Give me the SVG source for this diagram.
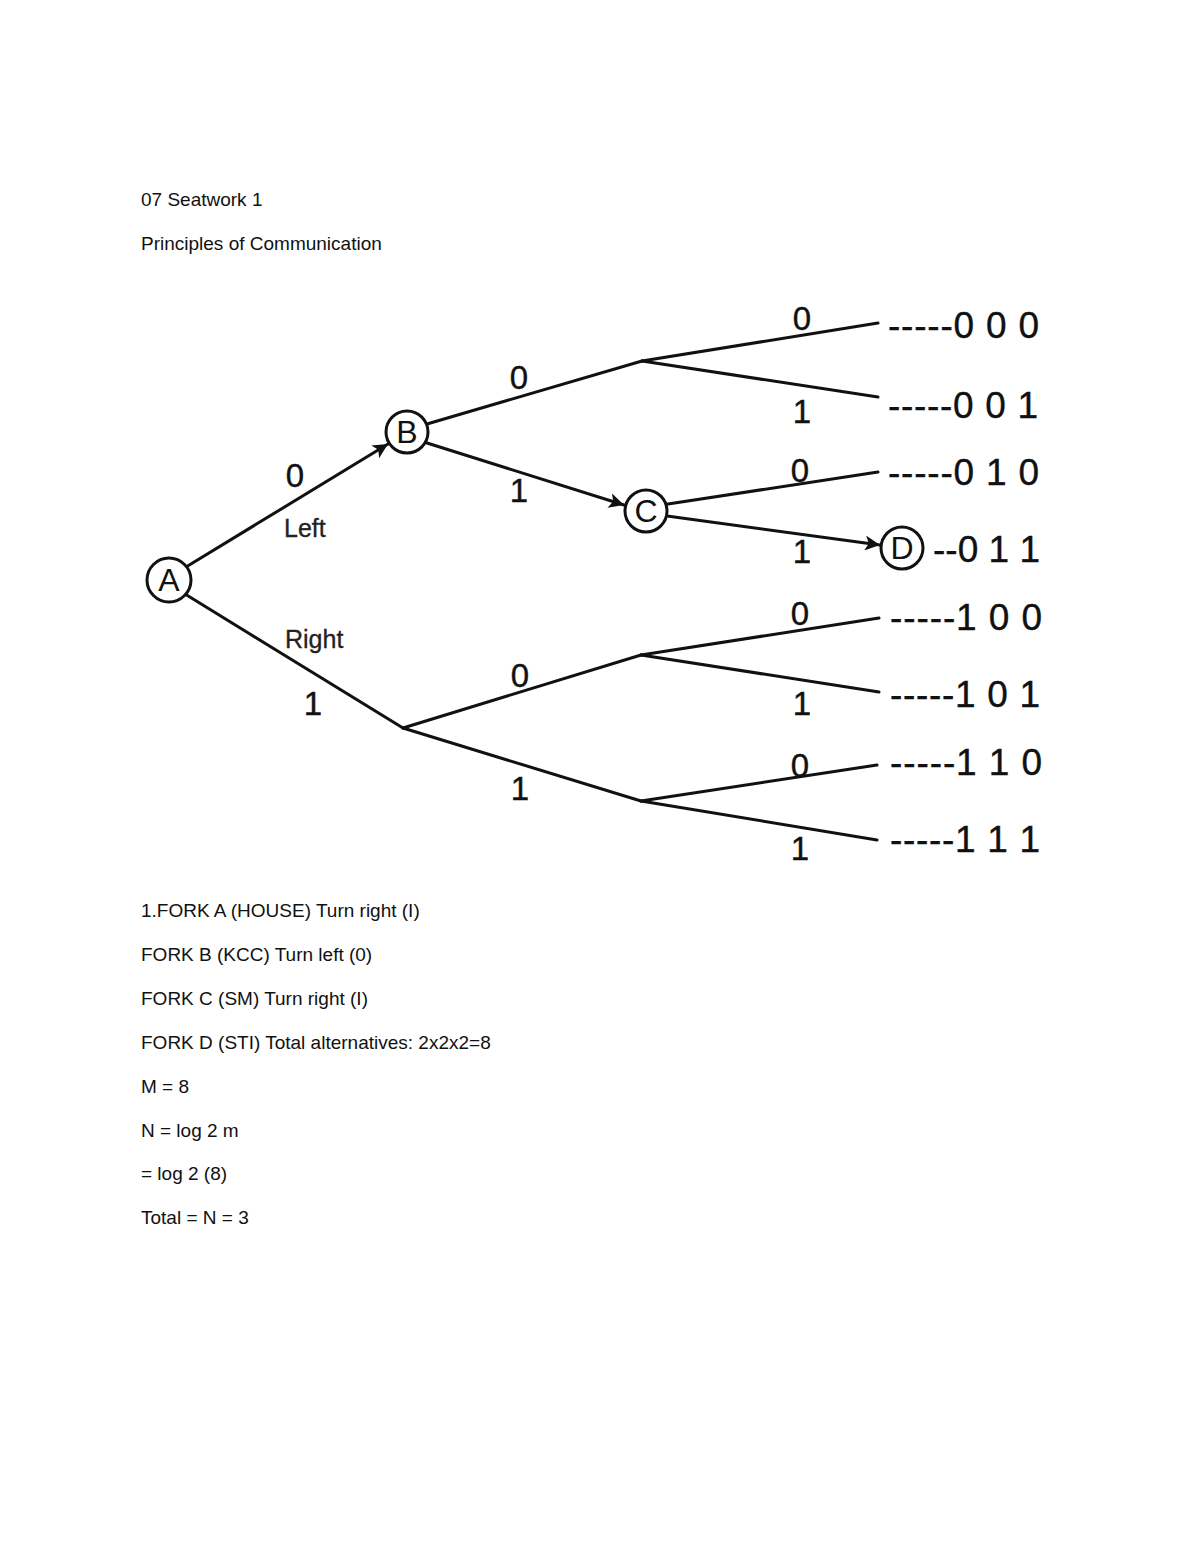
<svg xmlns="http://www.w3.org/2000/svg" width="1200" height="1553" viewBox="0 0 1200 1553">
<style>
.body{font-family:"Liberation Sans",Arial,sans-serif;font-size:19px;fill:#111}
.lbl{font-family:"Liberation Sans",Arial,sans-serif;font-size:33px;fill:#111;text-anchor:middle;stroke:#111;stroke-width:0.4}
.word{font-family:"Liberation Sans",Arial,sans-serif;font-size:25px;fill:#222;stroke:#222;stroke-width:0.3}
.leaf{font-family:"Liberation Sans",Arial,sans-serif;font-size:37px;fill:#111;stroke:#111;stroke-width:0.4}
.node circle{fill:#fff;stroke:#111;stroke-width:3}
.node text{font-family:"Liberation Sans",Arial,sans-serif;font-size:32px;fill:#111;text-anchor:middle}
.edge{stroke:#111;stroke-width:3;fill:none;stroke-linecap:round}
</style>
<defs>
<marker id="arr" viewBox="0 0 10 10" refX="10" refY="5" markerWidth="5" markerHeight="5" markerUnits="strokeWidth" orient="auto">
<path d="M0,0 L10,5 L0,10 L2.5,5 z" fill="#111"/>
</marker>
</defs>
<rect width="1200" height="1553" fill="#fff"/>
<text class="body" x="141" y="206">07 Seatwork 1</text>
<text class="body" x="141" y="250">Principles of Communication</text>

<g id="connectors">
<line class="edge" x1="186" y1="567" x2="388" y2="444" marker-end="url(#arr)"/>
<line class="edge" x1="185" y1="594" x2="403" y2="728"/>
<line class="edge" x1="427" y1="424" x2="642" y2="361"/>
<line class="edge" x1="427" y1="443" x2="624" y2="505" marker-end="url(#arr)"/>
<line class="edge" x1="642" y1="361" x2="878" y2="323"/>
<line class="edge" x1="642" y1="361" x2="878" y2="397"/>
<line class="edge" x1="668" y1="504" x2="878" y2="472"/>
<line class="edge" x1="667" y1="516" x2="880" y2="545" marker-end="url(#arr)"/>
<line class="edge" x1="403" y1="728" x2="641" y2="655"/>
<line class="edge" x1="403" y1="728" x2="641" y2="801"/>
<line class="edge" x1="641" y1="655" x2="879" y2="618"/>
<line class="edge" x1="641" y1="655" x2="879" y2="692"/>
<line class="edge" x1="641" y1="801" x2="877" y2="765"/>
<line class="edge" x1="641" y1="801" x2="877" y2="840"/>
</g>

<g id="node-A" class="node"><circle cx="169" cy="580" r="22"/><text x="169" y="591">A</text></g>
<g id="node-B" class="node"><circle cx="407" cy="432" r="21"/><text x="407" y="443">B</text></g>
<g id="node-C" class="node"><circle cx="646" cy="511" r="21"/><text x="646" y="522">C</text></g>
<g id="node-D" class="node"><circle cx="902" cy="548" r="21"/><text x="902" y="559">D</text></g>

<g id="labels">
<text class="lbl" x="295" y="487">0</text>
<text class="word" x="284" y="537">Left</text>
<text class="word" x="285" y="648">Right</text>
<text class="lbl" x="313" y="715">1</text>
<text class="lbl" x="519" y="389">0</text>
<text class="lbl" x="519" y="502">1</text>
<text class="lbl" x="520" y="687">0</text>
<text class="lbl" x="520" y="800">1</text>
<text class="lbl" x="802" y="330">0</text>
<text class="lbl" x="802" y="423">1</text>
<text class="lbl" x="800" y="482">0</text>
<text class="lbl" x="802" y="563">1</text>
<text class="lbl" x="800" y="625">0</text>
<text class="lbl" x="802" y="715">1</text>
<text class="lbl" x="800" y="777">0</text>
<text class="lbl" x="800" y="860">1</text>
</g>

<g id="leaves">
<text class="leaf" x="888" y="338" textLength="151" lengthAdjust="spacing">-----0 0 0</text>
<text class="leaf" x="888" y="418" textLength="150" lengthAdjust="spacing">-----0 0 1</text>
<text class="leaf" x="888" y="485" textLength="151" lengthAdjust="spacing">-----0 1 0</text>
<text class="leaf" x="933" y="562" textLength="107" lengthAdjust="spacing">--0 1 1</text>
<text class="leaf" x="890" y="630" textLength="152" lengthAdjust="spacing">-----1 0 0</text>
<text class="leaf" x="890" y="707" textLength="150" lengthAdjust="spacing">-----1 0 1</text>
<text class="leaf" x="890" y="775" textLength="152" lengthAdjust="spacing">-----1 1 0</text>
<text class="leaf" x="890" y="852" textLength="150" lengthAdjust="spacing">-----1 1 1</text>
</g>

<text class="body" x="141" y="917">1.FORK A (HOUSE) Turn right (I)</text>
<text class="body" x="141" y="961">FORK B (KCC) Turn left (0)</text>
<text class="body" x="141" y="1005">FORK C (SM) Turn right (I)</text>
<text class="body" x="141" y="1049">FORK D (STI) Total alternatives: 2x2x2=8</text>
<text class="body" x="141" y="1093">M = 8</text>
<text class="body" x="141" y="1137">N = log 2 m</text>
<text class="body" x="141" y="1180">= log 2 (8)</text>
<text class="body" x="141" y="1224">Total = N = 3</text>
</svg>
